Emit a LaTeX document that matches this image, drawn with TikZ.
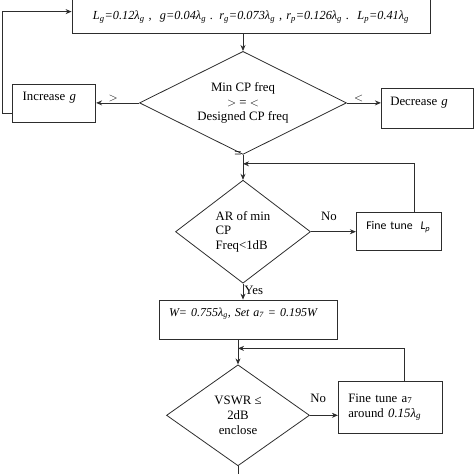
\documentclass[tikz,border=0pt]{standalone}
\usepackage{fontspec}
\setmainfont{Liberation Serif}
\newfontfamily\calfont{Carlito}
\usetikzlibrary{
  arrows.meta,
  positioning,
  shapes.geometric
}
\definecolor{lineink}{RGB}{45,45,45}
\newcommand{\lamg}{λ\textsubscript{g}}
\tikzset{
  procbox/.style={draw=lineink,line width=0.8pt,align=left,inner ysep=0pt,
    font=\fontsize{12.8}{15}\selectfont},
  decision/.style={draw=lineink,line width=0.8pt,diamond,inner sep=0pt,
    align=center,font=\fontsize{12.8}{14.8}\selectfont},
  flow/.style={-{Stealth[length=6pt,width=5pt]},line width=0.8pt,draw=lineink},
  plain/.style={line width=0.8pt,draw=lineink},
  lab/.style={font=\fontsize{12.8}{14}\selectfont,inner sep=1pt}
}

\begin{document}
\begin{tikzpicture}[x=1pt,y=1pt]
  \useasboundingbox (0,0) rectangle (474,-474);
  \node[procbox,anchor=south,text width=338pt,inner xsep=10pt,align=center,
    text height=30pt,text depth=14pt,font=\fontsize{12.3}{14}\selectfont]
    (par) at (251,-34) {\itshape L\textsubscript{g}=0.12\lamg\ ,\ \ g=0.04\lamg\ . r\textsubscript{g}=0.073\lamg\ , r\textsubscript{p}=0.126\lamg\ .\ \ L\textsubscript{p}=0.41\lamg};
  \node[decision,below=17pt of par,xshift=-8pt,minimum width=207pt,
    minimum height=103pt,aspect=2] (d1) {Min CP freq\\$>$ = $<$\\Designed CP freq};
  \node[procbox,left=43pt of d1,text width=63pt,inner xsep=10pt,
    text height=17pt,text depth=21pt] (incr) {Increase \textit{g}};
  \node[procbox,right=34pt of d1,yshift=-5pt,text width=74pt,inner xsep=9pt,
    text height=18pt,text depth=22pt] (decr) {Decrease \textit{g}};
  \node[decision,below=25pt of d1,minimum width=135pt,minimum height=103pt,
    aspect=1.3,align=left] (d2) {AR of min\\CP\\Freq<1dB};
  \node[procbox,right=45pt of d2,text width=65pt,inner xsep=10pt,
    text height=17pt,text depth=21pt,font=\calfont\fontsize{11.8}{13}\selectfont]
    (ftlp) {Fine tune \ \textit{L\textsubscript{p}}};
  \node[procbox,below=16pt of d2,xshift=5pt,text width=158pt,inner xsep=10pt,
    text height=16pt,text depth=23pt,font=\fontsize{12}{14}\selectfont]
    (wbox) {\itshape W= 0.755\lamg, Set a\textsubscript{7} = 0.195W};
  \node[decision,below=25pt of wbox,xshift=-10pt,minimum width=143pt,
    minimum height=101pt,aspect=1.4] (d3) {VSWR ≤\\2dB\\enclose};
  \node[procbox,right=28pt of d3,yshift=8pt,text width=84pt,inner xsep=10pt,
    minimum height=52pt] (fta7) {Fine tune a\textsubscript{7}\\around \textit{0.15\lamg}};

  \draw[flow] (par.south -| d1.north) -- (d1.north);
  \draw[flow] (d1.west) -- node[lab,above,pos=0.6]{$>$} (incr.east);
  \draw[flow] (d1.east) -- node[lab,above,pos=0.35]{$<$} (d1.east -| decr.west);
  \draw[flow] ([yshift=-10pt]incr.west) -- ++(-10,0) |- (par.west);

  \coordinate[above=16pt of d2] (m1);
  \draw[plain] (d1.south) -- node[lab,left,pos=0]{=} (m1);
  \draw[flow] (m1) -- (d2.north);
  \draw[flow] ([xshift=16pt]ftlp.north) |- (m1);
  \draw[flow] (d2.east) -- node[lab,above=10pt,pos=0.4]{No} (ftlp.west);
  \draw[flow] (d2.south) -- node[lab,right,pos=0.4]{Yes} (d2.south |- wbox.north);

  \coordinate[above=16pt of d3] (m2);
  \draw[plain] (d3.north |- wbox.south) -- (m2);
  \draw[flow] (m2) -- (d3.north);
  \draw[flow] ([xshift=14pt]fta7.north) |- (m2);
  \draw[flow] (d3.east) -- node[lab,above=11pt,pos=0.3]{No} (d3.east -| fta7.west);
  \coordinate[below=20pt of d3] (tail);
  \draw[plain] (d3.south) -- (tail);
\end{tikzpicture}
\end{document}
